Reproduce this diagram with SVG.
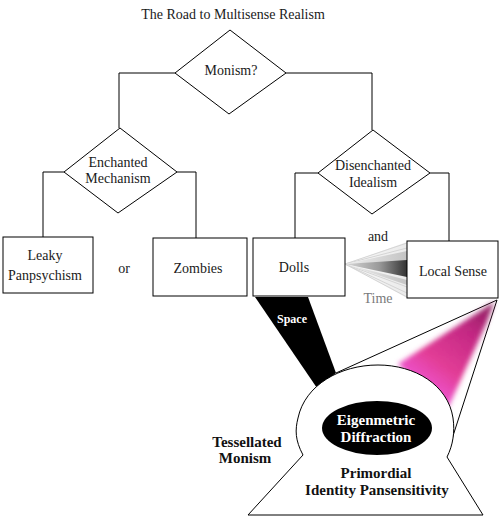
<svg xmlns="http://www.w3.org/2000/svg" width="500" height="524" viewBox="0 0 500 524">
<defs>
<style>
.t{font-family:"Liberation Serif","Times New Roman",serif;font-size:14px;fill:#1a1a1a;text-anchor:middle}
.b{font-family:"Liberation Serif","Times New Roman",serif;font-size:15px;font-weight:bold;fill:#111;text-anchor:middle}
.shape{fill:#fff;stroke:#000;stroke-width:1}
.line{fill:none;stroke:#000;stroke-width:1}
</style>
<linearGradient id="darkFan" gradientUnits="userSpaceOnUse" x1="345" y1="0" x2="407" y2="0">
<stop offset="0" stop-color="#d8d8d8"/>
<stop offset="0.55" stop-color="#9a9a9a"/>
<stop offset="1" stop-color="#333"/>
</linearGradient>
<linearGradient id="lightFan" gradientUnits="userSpaceOnUse" x1="345" y1="0" x2="407" y2="0">
<stop offset="0" stop-color="#f0f0f0"/>
<stop offset="1" stop-color="#c4c4c4"/>
</linearGradient>
<linearGradient id="mag" gradientUnits="userSpaceOnUse" x1="494" y1="302" x2="425" y2="395">
<stop offset="0" stop-color="#820a52"/>
<stop offset="0.35" stop-color="#c0147a"/>
<stop offset="0.7" stop-color="#e02c8e"/>
<stop offset="1" stop-color="#ee4ad6"/>
</linearGradient>
<pattern id="tess" patternUnits="userSpaceOnUse" width="10" height="16">
<path d="M0,0 L5,16 L10,0 M0,16 L5,0 L10,16" fill="none" stroke="#fff" stroke-opacity="0.18" stroke-width="1"/>
</pattern>
<filter id="fuzz" x="-20%" y="-20%" width="140%" height="140%">
<feGaussianBlur stdDeviation="2.4"/>
</filter>
</defs>
<rect width="500" height="524" fill="#fff"/>

<g id="title"><text class="t" x="233" y="19">The Road to Multisense Realism</text></g>

<g id="connectors">
<polyline class="line" points="175,73 119,73 119,128"/>
<polyline class="line" points="286,73 372,73 372,130"/>
<polyline class="line" points="64,172 43,172 43,237"/>
<polyline class="line" points="177,172 196,172 196,238"/>
<polyline class="line" points="318,173 295,173 295,238"/>
<polyline class="line" points="430,173 449,173 449,241"/>
</g>

<g id="time-fan">
<polygon points="345,264 407,242 407,298" fill="url(#lightFan)" opacity="0.35"/>
<g stroke="#d4d4d4" stroke-width="1">
<line x1="345" y1="264" x2="407" y2="243"/>
<line x1="345" y1="264" x2="407" y2="248"/>
<line x1="345" y1="264" x2="407" y2="287"/>
<line x1="345" y1="264" x2="407" y2="293"/>
<line x1="345" y1="264" x2="407" y2="297"/>
</g>
<polygon points="345,264 407,251 407,261" fill="url(#lightFan)"/>
<polygon points="345,264 407,260 407,277" fill="url(#darkFan)"/>
<polygon points="345,264 407,280 407,285" fill="url(#lightFan)"/>
<text class="t" x="378" y="303" style="fill:#7a7a7a">Time</text>
</g>

<g id="space-beam">
<polygon points="255,297 308,297 336,373 317,388" fill="#000"/>
<text class="b" x="292" y="323" style="font-size:12px;fill:#fff">Space</text>
</g>

<g id="sense-beam">
<line class="line" x1="497" y1="300" x2="336" y2="373"/>
<line class="line" x1="497" y1="300" x2="451" y2="442"/>
<g filter="url(#fuzz)">
<polygon points="494,302 398,364 432,398 448,408 487,322" fill="url(#mag)"/>
<polygon points="494,302 398,364 432,398 448,408 487,322" fill="url(#tess)"/>
</g>
</g>

<g id="node-monism">
<polygon class="shape" points="230,30 286,73 229,114 175,73"/>
<text class="t" x="231" y="75">Monism?</text>
</g>

<g id="node-enchanted">
<polygon class="shape" points="120,128 177,172 118,213 64,172"/>
<text class="t" x="118" y="167">Enchanted</text>
<text class="t" x="118" y="183">Mechanism</text>
</g>

<g id="node-disenchanted">
<polygon class="shape" points="373,130 430,173 372,214 318,173"/>
<text class="t" x="373" y="170">Disenchanted</text>
<text class="t" x="373" y="187">Idealism</text>
</g>

<g id="node-leaky">
<rect class="shape" x="3" y="237" width="90" height="56"/>
<text class="t" x="45" y="260">Leaky</text>
<text class="t" x="45" y="280">Panpsychism</text>
</g>

<g id="label-or"><text class="t" x="124" y="273">or</text></g>

<g id="node-zombies">
<rect class="shape" x="153" y="238" width="94" height="58"/>
<text class="t" x="198" y="273">Zombies</text>
</g>

<g id="node-dolls">
<rect class="shape" x="253" y="238" width="92" height="58"/>
<text class="t" x="294" y="272">Dolls</text>
</g>

<g id="label-and"><text class="t" x="378" y="241">and</text></g>

<g id="node-local-sense">
<rect class="shape" x="407" y="241" width="91" height="57"/>
<text class="t" x="453" y="276">Local Sense</text>
</g>

<g id="node-pansensitivity">
<path class="shape" d="M303,455 C295,440 295,430 298,418 C305,385 340,365 378,365 C415,365 448,385 453,418 C455,432 453,445 447,457 L483,515 L248,515 Z"/>
<text class="b" x="376" y="478">Primordial</text>
<text class="b" x="377" y="495">Identity Pansensitivity</text>
</g>

<g id="node-eigenmetric">
<ellipse cx="377" cy="428" rx="55" ry="27" fill="#000"/>
<text class="b" x="376" y="425" style="fill:#fff">Eigenmetric</text>
<text class="b" x="376" y="442" style="fill:#fff">Diffraction</text>
</g>

<g id="label-tessellated">
<text class="b" x="247" y="447">Tessellated</text>
<text class="b" x="245" y="463">Monism</text>
</g>
</svg>
